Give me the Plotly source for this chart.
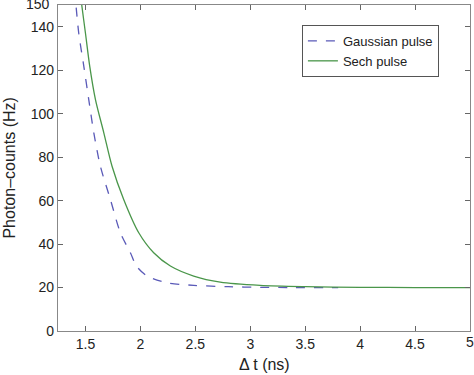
import plotly.graph_objects as go

gauss_x = [1.40, 1.409, 1.439, 1.485, 1.530, 1.576, 1.636, 1.727, 1.818, 1.909, 1.964, 2.061, 2.242, 2.485, 2.8, 3.09, 3.4, 3.8]
gauss_y = [157, 152.3, 137, 121.8, 106.5, 91.2, 75.8, 60.5, 45.2, 36.0, 29.9, 25.3, 22.2, 21.0, 20.4, 20.1, 20.0, 20.0]

sech_x = [1.455, 1.461, 1.500, 1.539, 1.591, 1.667, 1.742, 1.848, 1.985, 2.121, 2.273, 2.485, 2.727, 3.09, 3.5, 4.0, 4.5, 5.0]
sech_y = [155, 152, 137, 121.8, 106.5, 91.2, 75.8, 60.5, 45.2, 36.0, 29.9, 25.3, 22.5, 21.0, 20.4, 20.1, 20.0, 20.0]

x_ticks = [1.5, 2, 2.5, 3, 3.5, 4, 4.5, 5]
x_labels = ["1.5", "2", "2.5", "3", "3.5", "4", "4.5", "5"]
y_ticks = [0, 20, 40, 60, 80, 100, 120, 140, 150]
y_labels = ["0", "20", "40", "60", "80", "100", "120", "140", "150"]

font = "Liberation Sans, Arial, sans-serif"
X0, X1 = 1.25, 5.0
Y0, Y1 = 0, 150

fig = go.Figure()
fig.add_trace(go.Scatter(x=gauss_x, y=gauss_y, mode="lines", name="Gaussian pulse",
                         line=dict(color="#5a5ab8", width=1.3, dash="dash", shape="spline", smoothing=0.8)))
fig.add_trace(go.Scatter(x=sech_x, y=sech_y, mode="lines", name="Sech pulse",
                         line=dict(color="#4a964a", width=1.3, shape="spline", smoothing=0.8)))

axis_common = dict(showgrid=False, zeroline=False, showline=True, linecolor="#888888",
                   linewidth=1.2, mirror="ticks", ticks="inside", ticklen=5,
                   tickcolor="#666666", automargin=False,
                   tickfont=dict(family=font, size=14, color="#222222"))

# labels at the range edges are drawn as annotations (plotly drops edge labels)
x_main = [(v, t) for v, t in zip(x_ticks, x_labels) if v < X1]
y_main = [(v, t) for v, t in zip(y_ticks, y_labels) if v < Y1]

annotations = [
    dict(text="Δ t (ns)", xref="paper", yref="paper", x=0.5, y=-0.104,
         xanchor="center", yanchor="middle", showarrow=False,
         font=dict(family=font, size=16, color="#222222")),
    dict(text="Photon\u2013counts (Hz)", xref="paper", yref="paper", x=-0.12, y=0.5,
         xanchor="center", yanchor="middle", textangle=-90, showarrow=False,
         font=dict(family=font, size=16, color="#222222")),
    dict(text=x_labels[-1], xref="x", yref="paper", x=x_ticks[-1], y=-0.034,
         xanchor="center", yanchor="middle", showarrow=False,
         font=dict(family=font, size=14, color="#222222")),
    dict(text=y_labels[-1], xref="paper", yref="y", x=-0.014, y=y_ticks[-1],
         xanchor="right", yanchor="middle", showarrow=False, yshift=1,
         font=dict(family=font, size=14, color="#222222")),
]

fig.update_layout(
    width=474, height=375,
    margin=dict(l=58, r=4, t=5, b=44),
    paper_bgcolor="white", plot_bgcolor="white",
    font=dict(family=font, color="#222222"),
    xaxis=dict(range=[X0, X1], tickvals=x_ticks, ticktext=[t for _, t in x_main] + [""], **axis_common),
    yaxis=dict(range=[Y0, Y1], tickvals=y_ticks, ticktext=[t for _, t in y_main] + [""], **axis_common),
    legend=dict(x=0.592, y=0.9387, xanchor="left", yanchor="top",
                bgcolor="white", bordercolor="#555555", borderwidth=1,
                font=dict(family=font, size=13, color="#222222"),
                tracegroupgap=0, itemwidth=30),
    showlegend=True,
    annotations=annotations,
)

fig.write_html("out.html", config={"displayModeBar": False},
               post_script="document.body.style.margin='0';")
